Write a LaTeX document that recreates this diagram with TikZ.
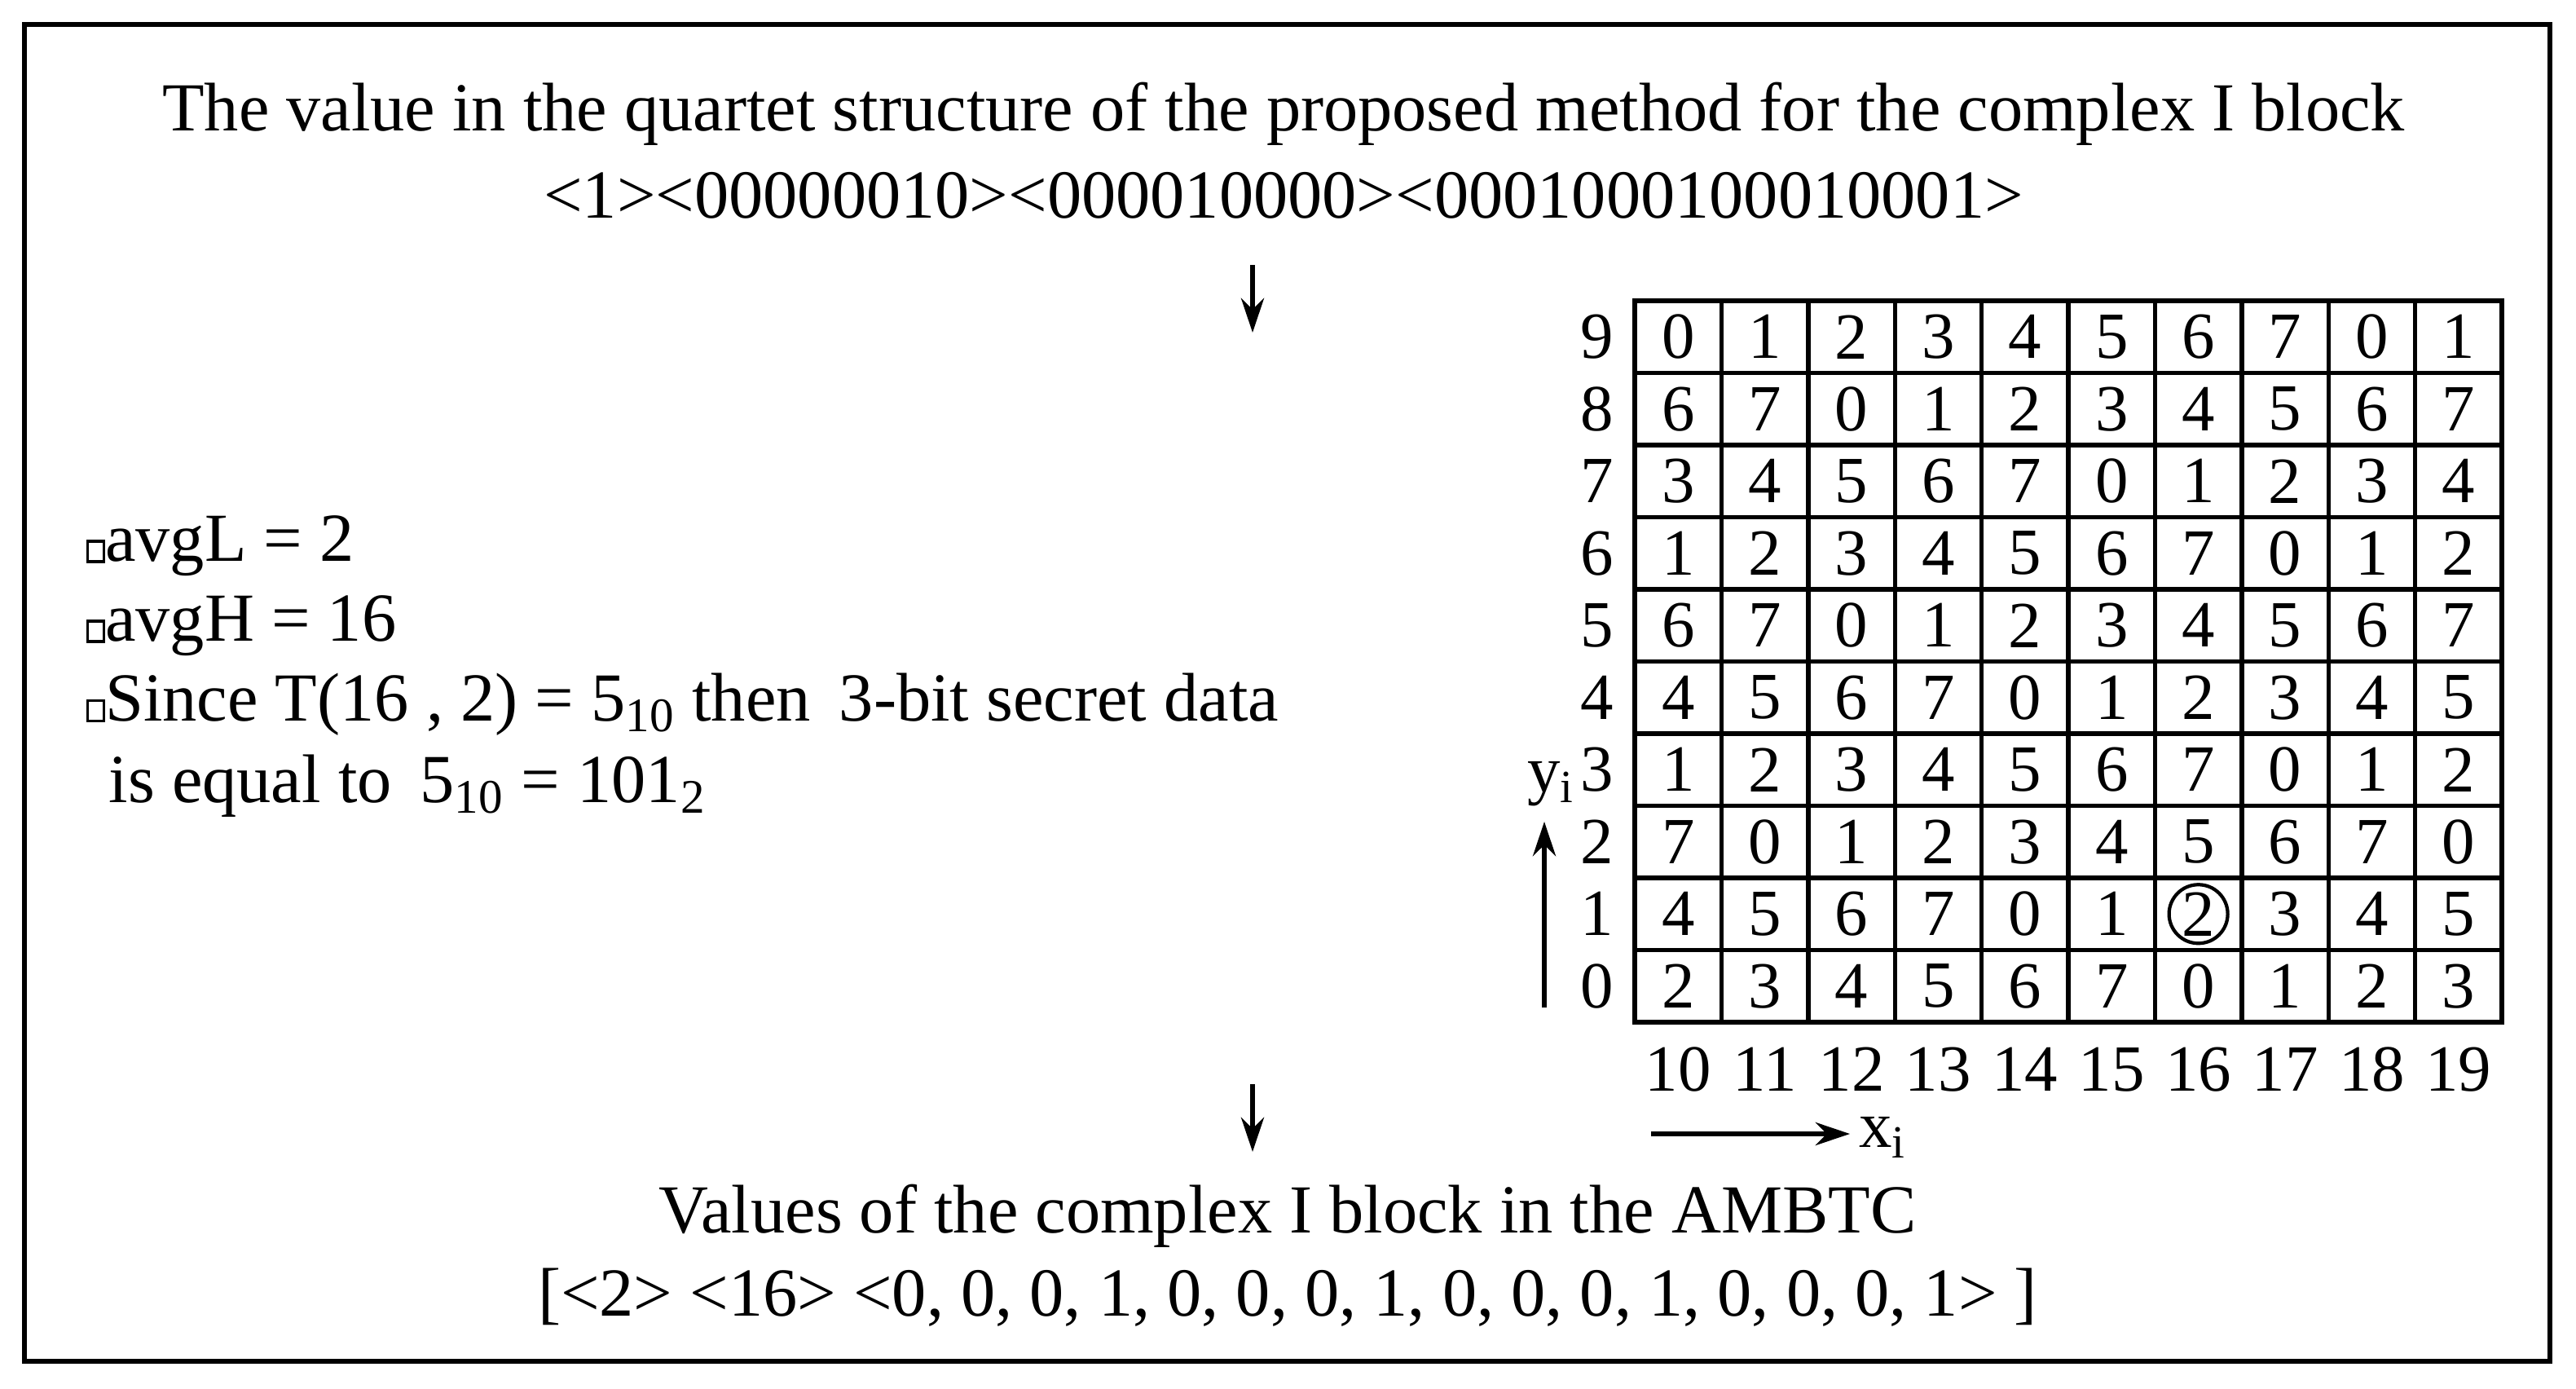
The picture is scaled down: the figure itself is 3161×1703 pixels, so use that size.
\documentclass[tikz,border=0pt]{standalone}
\usepackage{fontspec}
\setmainfont{Liberation Serif}
\usetikzlibrary{arrows.meta}
\begin{document}
\begin{tikzpicture}[x=0.01cm,y=-0.01cm,
  txt/.style={inner sep=0pt,font=\fontsize{24}{28}\selectfont},
  gtxt/.style={inner sep=0pt,font=\fontsize{23}{27}\selectfont},
  arr/.style={-{Stealth[length=12pt,width=8pt]},line width=1.6pt}]
\useasboundingbox (0,0) rectangle (3161,1703);
\draw[line width=1.5pt] (30,30) rectangle (3129,1670);
\node[txt] (t1) at (1575,140) {The value in the quartet structure of the proposed method for the complex I block};
\node[txt] (t2) at (1575,240) {<1><00000010><000010000><0001000100010001>};
\coordinate (a1s) at (1537,325); \coordinate (a1e) at (1537,408);
\draw[arr] (a1s) -- (a1e);
\coordinate (a2s) at (1537,1330); \coordinate (a2e) at (1537,1413);
\draw[arr] (a2s) -- (a2e);
\newcommand{\bx}{\tikz[baseline=0pt,x=1cm,y=1cm]\draw[line width=1pt] (0,0) rectangle (0.2,0.25);}
\node[txt,anchor=west] (b1) at (105,670) {\bx avgL = 2};
\node[txt,anchor=west] (b2) at (105,768) {\bx avgH = 16};
\node[txt,anchor=west] (b3) at (105,864) {\bx Since T(16 , 2) = 5\textsubscript{10} then\, 3-bit secret data};
\node[txt,anchor=west] (b4) at (133,964) {is equal to\, 5\textsubscript{10} = 101\textsubscript{2}};
% grid
\def\cw{106.4}\def\ch{88.5}
\foreach \r [count=\k from 0] in {2,4,7,1,4,6,1,3,6,0} {
  \pgfmathsetmacro{\yy}{1254-(\k+0.5)*\ch}
  \node[gtxt] (rl\k) at (1960,\yy) {\k};
  \foreach \c in {0,...,9} {
    \pgfmathtruncatemacro{\v}{mod(\c+\r,8)}
    \node[gtxt,draw,line width=1.5pt,minimum width=1.064cm,minimum height=0.885cm] (c\c\k) at ({2006+(\c+0.5)*\cw},\yy) {\v};
  }
}
\foreach \c in {0,...,9} {
  \pgfmathtruncatemacro{\xl}{10+\c}
  \node[gtxt] (xl\c) at ({2006+(\c+0.5)*\cw},1312) {\xl};
}
\draw[line width=1.2pt] (c61.center) circle (36);
\coordinate (xs) at (2026,1391); \coordinate (xe) at (2270,1391);
\draw[arr] (xs) -- (xe);
\node[gtxt] (xi) at (2310,1395) {x\textsubscript{i}};
\coordinate (ys) at (1895,1236); \coordinate (ye) at (1895,1008);
\draw[arr] (ys) -- (ye);
\node[gtxt] (yi) at (1903,962) {y\textsubscript{i}};
\node[txt] (u1) at (1580,1492) {Values of the complex I block in the AMBTC};
\node[txt] (u2) at (1580,1592) {[<2> <16> <0, 0, 0, 1, 0, 0, 0, 1, 0, 0, 0, 1, 0, 0, 0, 1> ]};
\end{tikzpicture}
\end{document}
